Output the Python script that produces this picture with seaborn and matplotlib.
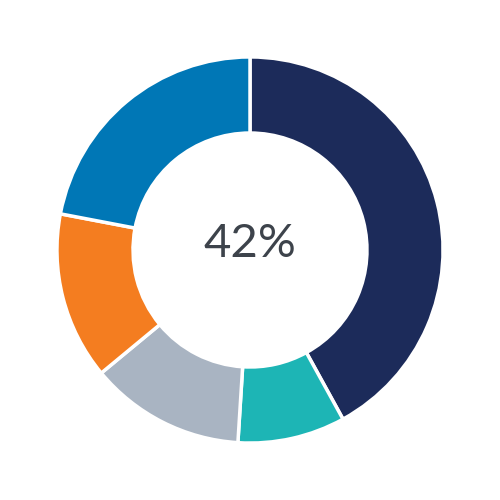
import matplotlib
matplotlib.use("Agg")
import matplotlib.pyplot as plt
import seaborn as sns

categories = ["A", "B", "C", "D", "E"]
values = [42, 9, 13, 14, 22]
colors = ["#1c2b5a", "#1db5b5", "#a9b4c2", "#f47d20", "#0077b6"]
center_label = "42%"

sns.set_theme(style="white")
plt.rcParams['font.family'] = ['Lato', 'DejaVu Sans']

fig = plt.figure(figsize=(5, 5), dpi=100)
ax = fig.add_axes([0, 0, 1, 1])
outer = 1.0
ax.pie(values, colors=colors, startangle=90, counterclock=False, radius=outer,
       wedgeprops=dict(width=0.394, edgecolor="white", linewidth=2.5))
ax.text(0, 0.03, center_label, ha="center", va="center", fontsize=34,
        color="#3d434b", fontweight="normal")
ax.set_xlim(-1.295, 1.295)
ax.set_ylim(-1.295, 1.295)
ax.set_aspect("equal")
ax.axis("off")
fig.savefig("out.png", dpi=100, facecolor="white")
